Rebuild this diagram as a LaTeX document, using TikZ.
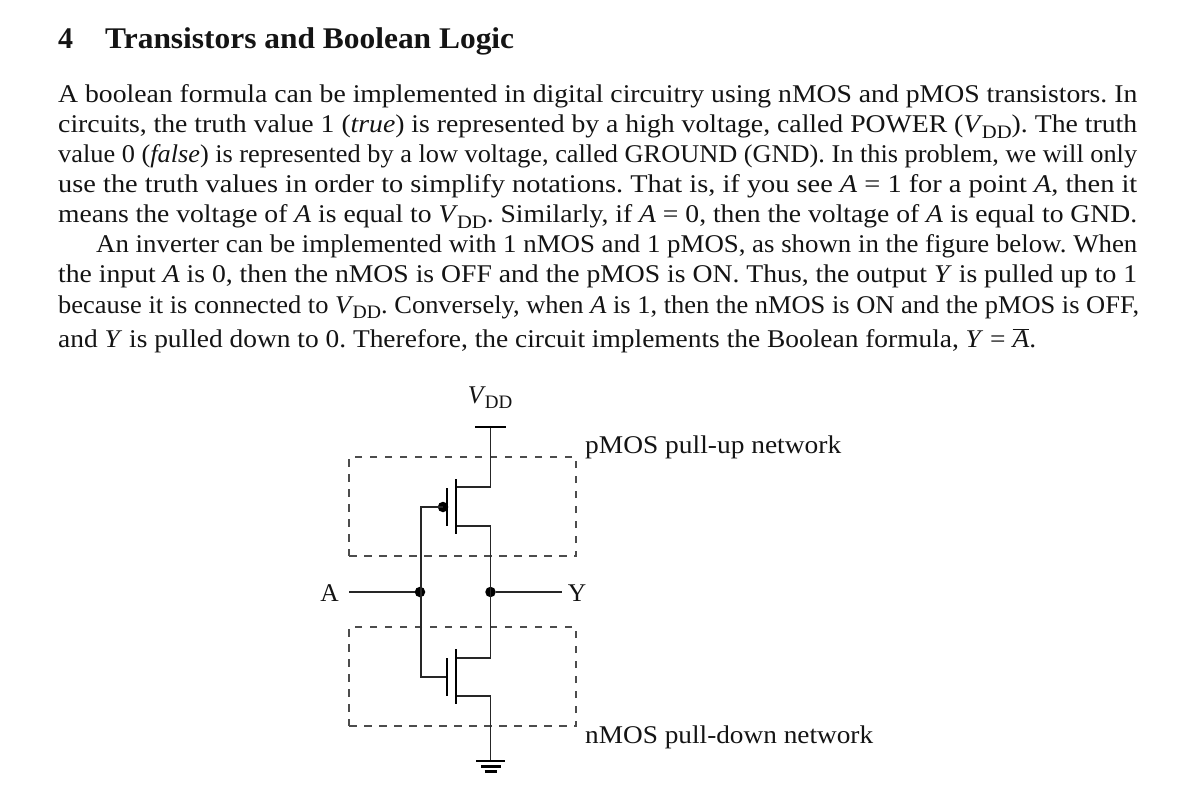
\documentclass[tikz,border=0pt]{standalone}
\usepackage{graphicx}
\usepackage{fontspec}
\setmainfont{Liberation Serif}
\frenchspacing
\newcommand{\sbt}[1]{\raisebox{-0.22em}{\fontsize{19}{19}\selectfont #1}}
\newcommand{\vdd}{\textit{V}\kern-1pt\sbt{DD}}
\newcommand{\ita}{\textit{A}}
\newcommand{\ity}{\textit{Y}}
\newcommand{\fitw}[2]{\resizebox{#1pt}{\height}{#2}}
\tikzset{
  bodyline/.style={anchor=base west,inner sep=0pt,font=\fontsize{25.5}{30}\selectfont,text=black!92},
  headline/.style={anchor=base west,inner sep=0pt,font=\fontsize{30}{36}\selectfont\bfseries,text=black!92},
  wire/.style={draw=black!85,line width=1.5pt},
  thick channel/.style={draw=black,line width=2.6pt},
  gate bar/.style={draw=black,line width=2.1pt},
  dashbox/.style={draw=black!70,line width=1.1pt,dash pattern=on 7.5pt off 7.5pt},
  dotjoin/.style={circle,fill=black,inner sep=0pt,minimum size=10.5pt},
  rail/.style={draw=black,line width=2.2pt},
  circlabel/.style={inner sep=0pt,font=\fontsize{25.5}{30}\selectfont,text=black!92},
  netlabel/.style={anchor=base west,inner sep=0pt,font=\fontsize{25.5}{30}\selectfont,text=black!92}
}
\begin{document}
\begin{tikzpicture}[x=1pt,y=-1pt]
\useasboundingbox[fill=white] (0,0) rectangle (1196,794);
% text
\node[headline] (hnum) at (58,49) {4};
\node[headline] (head) at (105,49) {\fitw{409}{Transistors and Boolean Logic}};
\node[bodyline] (l1) at (58,103) {\fitw{1079}{A boolean formula can be implemented in digital circuitry using nMOS and pMOS transistors. In}};
\node[bodyline] (l2) at (58,133) {\fitw{1079}{circuits, the truth value 1 (\textit{true}) is represented by a high voltage, called POWER (\vdd). The truth}};
\node[bodyline] (l3) at (58,163) {\fitw{1079}{value 0 (\textit{false}) is represented by a low voltage, called GROUND (GND). In this problem, we will only}};
\node[bodyline] (l4) at (58,193) {\fitw{1079}{use the truth values in order to simplify notations. That is, if you see \ita{} = 1 for a point \ita, then it}};
\node[bodyline] (l5) at (58,223) {\fitw{1079}{means the voltage of \ita{} is equal to \vdd. Similarly, if \ita{} = 0, then the voltage of \ita{} is equal to GND.}};
\node[bodyline] (l6) at (96,253) {\fitw{1041}{An inverter can be implemented with 1 nMOS and 1 pMOS, as shown in the figure below. When}};
\node[bodyline] (l7) at (58,283) {\fitw{1079}{the input \ita{} is 0, then the nMOS is OFF and the pMOS is ON. Thus, the output \ity{} is pulled up to 1}};
\node[bodyline] (l8) at (58,313) {\fitw{1081}{because it is connected to \vdd. Conversely, when \ita{} is 1, then the nMOS is ON and the pMOS is OFF,}};
\node[bodyline] (l9) at (58,347) {\fitw{978}{and \ity{} is pulled down to 0. Therefore, the circuit implements the Boolean formula, \ity{} = $\overline{\hbox{\ita}}$.}};
% dashed network boxes
\node[dashbox,inner sep=0pt,minimum width=227pt,minimum height=99pt] (pbox) at (462.5,506.5) {};
\node[dashbox,inner sep=0pt,minimum width=227pt,minimum height=99pt] (nbox) at (462.5,676.5) {};
% key points
\coordinate (vddpt) at (490.5,427);
\coordinate (vddl) at (475,427);
\coordinate (vddr) at (506,427);
\coordinate (pd) at (490.5,487);
\coordinate (pdc) at (456,487);
\coordinate (ps) at (490.5,526);
\coordinate (psc) at (456,526);
\coordinate (pct) at (456,479);
\coordinate (pcb) at (456,534);
\coordinate (pgt) at (447,488);
\coordinate (pgb) at (447,526);
\coordinate (pgw) at (421,507);
\coordinate (nd) at (490.5,658);
\coordinate (ndc) at (456,658);
\coordinate (ns) at (490.5,696);
\coordinate (nsc) at (456,696);
\coordinate (nct) at (456,649);
\coordinate (ncb) at (456,704);
\coordinate (ngt) at (447,658);
\coordinate (ngb) at (447,696);
\coordinate (ngw) at (421,677);
\coordinate (ngc) at (447,677);
\coordinate (gnd) at (490.5,761);
\coordinate (g1l) at (476,761); \coordinate (g1r) at (505,761);
\coordinate (g2l) at (481,766.5); \coordinate (g2r) at (501,766.5);
\coordinate (g3l) at (484.5,771.5); \coordinate (g3r) at (497,771.5);
\coordinate (awire) at (349,592);
\coordinate (ywire) at (562,592);
% junctions and bubble
\node[dotjoin] (ja) at (420,592) {};
\node[dotjoin] (jy) at (490.5,592) {};
\node[dotjoin] (bub) at (443,507) {};
% wires
\draw[wire] (vddpt) -- (pd) -- (pdc);
\draw[wire] (psc) -- (ps) -- (jy.center) -- (nd) -- (ndc);
\draw[wire] (nsc) -- (ns) -- (gnd);
\draw[wire] (bub.center) -- (pgw) -- (ngw) -- (ngc);
\draw[wire] (awire) -- (ja);
\draw[wire] (jy) -- (ywire);
% rails and transistor plates
\draw[rail] (vddl) -- (vddr);
\draw[thick channel] (pct) -- (pcb);
\draw[gate bar] (pgt) -- (pgb);
\draw[thick channel] (nct) -- (ncb);
\draw[gate bar] (ngt) -- (ngb);
\draw[rail] (g1l) -- (g1r);
\draw[rail] (g2l) -- (g2r);
\draw[rail] (g3l) -- (g3r);
% labels
\node[circlabel,anchor=base] (vddlab) at (490,403) {\vdd};
\node[circlabel,anchor=base] (alab) at (329.5,601) {A};
\node[circlabel,anchor=base] (ylab) at (577,601) {Y};
\node[netlabel] (plab) at (585,453) {\fitw{256}{pMOS pull-up network}};
\node[netlabel] (nlab) at (585,743) {\fitw{288}{nMOS pull-down network}};
\end{tikzpicture}
\end{document}
